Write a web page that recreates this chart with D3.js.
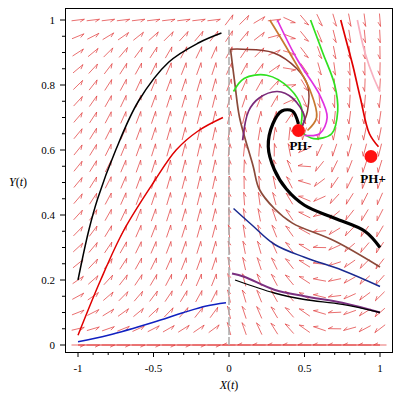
<!DOCTYPE html><html><head><meta charset="utf-8">
<script src="https://cdn.jsdelivr.net/npm/d3@7"></script>
<style>body{margin:0;background:#fff}</style></head><body><svg id="c" width="400" height="400"></svg>
<script>
const xTicks=[-1,-0.5,0,0.5,1];
const yTicks=[0,0.2,0.4,0.6,0.8,1];
const phMinus=[0.46,0.66], phPlus=[0.94,0.58];
const blackLeft=[[-1,0.2],[-0.93,0.35],[-0.87,0.45],[-0.75,0.6],[-0.6,0.75],[-0.4,0.87],[-0.2,0.93],[-0.05,0.96]];
const redLeft=[[-1,0.03],[-0.85,0.2],[-0.7,0.35],[-0.5,0.5],[-0.35,0.6],[-0.2,0.66],[-0.04,0.7]];
const blueLeft=[[-1,0.01],[-0.8,0.03],[-0.5,0.07],[-0.3,0.1],[-0.15,0.12],[-0.02,0.13]];
const blueRight=[[0.03,0.42],[0.15,0.37],[0.3,0.31],[0.5,0.27],[0.75,0.23],[1,0.18]];
const purpleLow=[[0.02,0.22],[0.1,0.21],[0.3,0.17],[0.5,0.15],[0.75,0.13],[1,0.1]];
const blackLow=[[0.04,0.2],[0.3,0.16],[0.5,0.14],[0.75,0.125],[1,0.1]];
const blackSpiral=[[1,0.3],[0.9,0.35],[0.7,0.39],[0.5,0.43],[0.38,0.48],[0.3,0.54],[0.26,0.61],[0.29,0.68],[0.35,0.72],[0.42,0.72],[0.46,0.68]];
const brownLong=[[0.01,0.91],[0.04,0.8],[0.07,0.7],[0.16,0.55],[0.2,0.48],[0.3,0.42],[0.42,0.375],[0.7,0.32],[1,0.24]];
const brownTop=[[0.01,0.91],[0.09,0.91],[0.29,0.9],[0.45,0.85],[0.52,0.8],[0.52,0.72],[0.47,0.66]];
const greenLeft=[[0.03,0.78],[0.1,0.82],[0.25,0.83],[0.4,0.79],[0.48,0.73],[0.47,0.66]];
const greenRight=[[0.54,1.0],[0.62,0.9],[0.7,0.8],[0.72,0.72],[0.68,0.65],[0.56,0.635],[0.48,0.655]];
const magenta=[[0.32,1.0],[0.45,0.88],[0.6,0.77],[0.65,0.7],[0.6,0.65],[0.5,0.645]];
const orange=[[0.27,1.0],[0.4,0.9],[0.54,0.78],[0.58,0.7],[0.52,0.66]];
const purple=[[0.09,0.63],[0.13,0.72],[0.2,0.76],[0.32,0.78],[0.42,0.76],[0.5,0.7],[0.47,0.66]];
const redRight=[[0.74,1.0],[0.78,0.93],[0.82,0.86],[0.87,0.76],[0.93,0.65],[0.99,0.61]];
const pink=[[0.85,1.0],[0.9,0.9],[0.96,0.82],[1,0.78]];

const svg=d3.select("#c");
const x=d3.scaleLinear().domain([-1,1]).range([78,380]);
const y=d3.scaleLinear().domain([0,1]).range([345,20]);
svg.append("rect").attr("x",65.5).attr("y",8.5).attr("width",327).attr("height",344).attr("fill","none").attr("stroke","#000");
function field(px,py){
  if(px<0) return [0.35+0.3*(1-py), py*(1-py)*3.5*(1.3+px)+0.02];
  const dx=px-phMinus[0], dy=py-phMinus[1];
  return [-0.4*dx+dy, -0.4*dy-dx];
}
const g=svg.append("g").attr("stroke","#e03030").attr("stroke-width",0.7).attr("fill","none");
for(let i=0;i<=20;i++)for(let j=0;j<=20;j++){
  const px=-1+i*0.1, py=j*0.05;
  let [u,v]=field(px,py); if(j==0){v=0;u=px<0?1:-1;}
  const sx=u*151, sy=-v*325, L=Math.hypot(sx,sy)||1;
  const ux=sx/L*13, uy=sy/L*13;
  const x0=x(px)-ux/2,y0=y(py)-uy/2,x1=x0+ux,y1=y0+uy;
  const a=Math.atan2(uy,ux)+Math.PI-0.45;
  g.append("path").attr("d",`M${x0},${y0}L${x1},${y1}L${x1+5*Math.cos(a)},${y1+5*Math.sin(a)}`);
}
svg.append("line").attr("x1",x(-1)).attr("x2",x(1)).attr("y1",y(0)).attr("y2",y(0)).attr("stroke","#e03030");
svg.append("line").attr("x1",x(0)).attr("x2",x(0)).attr("y1",y(0)).attr("y2",y(0.97)).attr("stroke","#aaa").attr("stroke-width",1.5).attr("stroke-dasharray","8,2");
const line=d3.line().x(d=>x(d[0])).y(d=>y(d[1])).curve(d3.curveCatmullRom);
const curves=[[blackLeft,"#000",1.5],[redLeft,"#e00000",1.5],[blueLeft,"#1020c0",1.5],[blueRight,"#1a2a90",1.5],
[purpleLow,"#7a3080",2],[blackLow,"#000",1.3],[brownLong,"#8b4a3a",1.7],[blackSpiral,"#000",3.2],[brownTop,"#8b3a30",1.5],
[greenLeft,"#30e020",1.7],[greenRight,"#30e020",1.7],[orange,"#c87830",1.7],[magenta,"#e030e0",1.7],[purple,"#7a2a7a",1.7],[redRight,"#e00000",1.7],[pink,"#f8b0c0",1.7]];
curves.forEach(([d,c,w])=>svg.append("path").attr("d",line(d)).attr("fill","none").attr("stroke",c).attr("stroke-width",w));
[phMinus,phPlus].forEach(p=>svg.append("circle").attr("cx",x(p[0])).attr("cy",y(p[1])).attr("r",6.5).attr("fill","#ff1010"));
svg.append("text").attr("x",x(0.4)).attr("y",y(0.6)).text("PH-").attr("font-family","Liberation Serif").attr("font-weight","bold").attr("font-size",13);
svg.append("text").attr("x",x(0.87)).attr("y",y(0.5)).text("PH+").attr("font-family","Liberation Serif").attr("font-weight","bold").attr("font-size",13);
const ax=svg.append("g").attr("stroke","#000");
d3.range(-1,1.001,0.1).forEach(t=>ax.append("line").attr("x1",x(t)).attr("x2",x(t)).attr("y1",352).attr("y2",Math.abs(t*2-Math.round(t*2))<1e-6?357:355));
d3.range(0,1.001,0.05).forEach(t=>ax.append("line").attr("y1",y(t)).attr("y2",y(t)).attr("x1",65).attr("x2",Math.abs(t*5-Math.round(t*5))<1e-6?60:62));
const tf="Liberation Serif";
xTicks.forEach(t=>svg.append("text").attr("x",x(t)).attr("y",372).attr("text-anchor","middle").attr("font-family",tf).attr("font-size",11).text(t));
yTicks.forEach(t=>svg.append("text").attr("x",55).attr("y",y(t)+4).attr("text-anchor","end").attr("font-family",tf).attr("font-size",11).text(t));
svg.append("text").attr("x",229).attr("y",389).attr("text-anchor","middle").attr("font-family",tf).attr("font-size",12).html('<tspan font-style="italic">X</tspan>(<tspan font-style="italic">t</tspan>)');
svg.append("text").attr("x",18).attr("y",186).attr("text-anchor","middle").attr("font-family",tf).attr("font-size",12).html('<tspan font-style="italic">Y</tspan>(<tspan font-style="italic">t</tspan>)');
</script></body></html>
